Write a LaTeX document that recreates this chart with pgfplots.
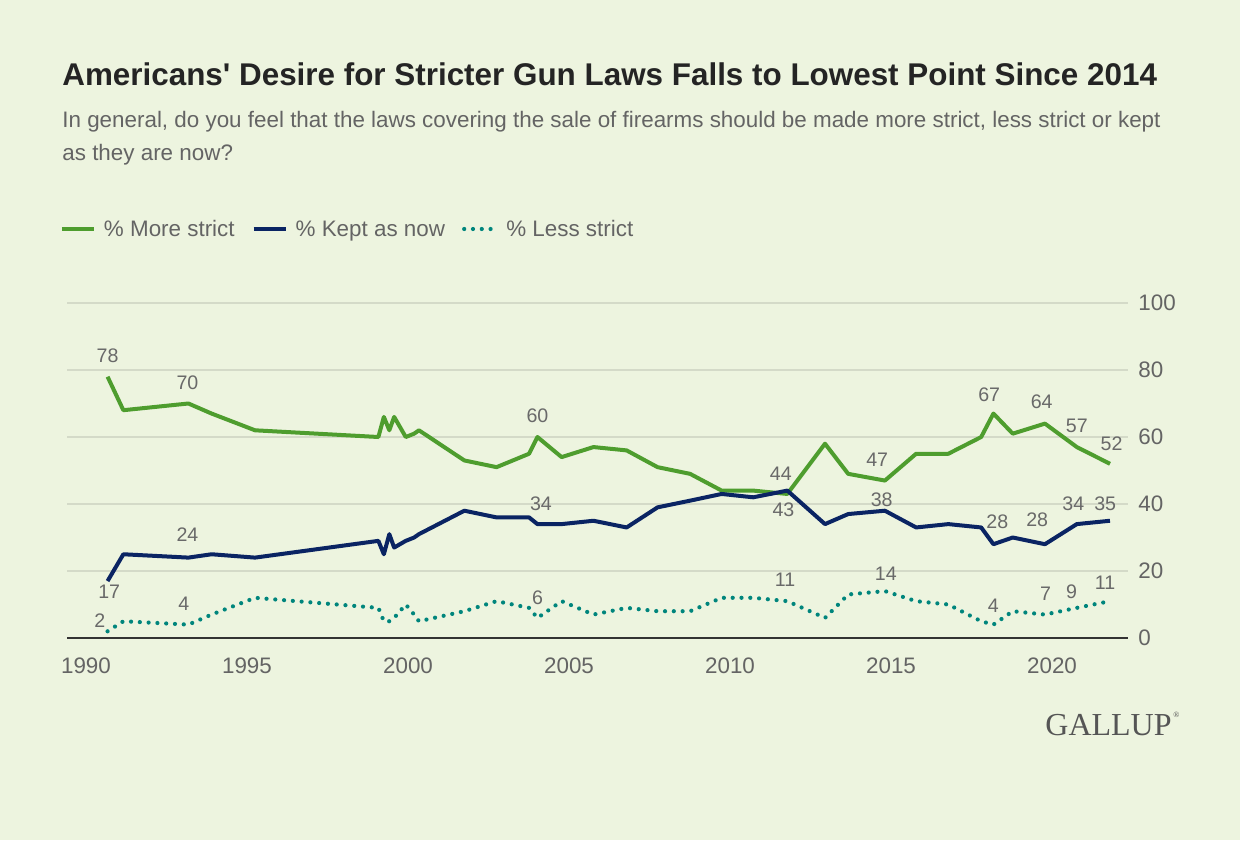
\documentclass[border=0pt]{standalone}
\usepackage{fontspec}
\setmainfont{Liberation Sans}
\newfontfamily\titlefont{Liberation Sans}[Ligatures=TeXOff]
\newfontfamily\logofont{Liberation Serif}
\usepackage{pgfplots}
\usepackage{pgfplotstable}
\pgfplotsset{compat=1.18}
\definecolor{bg}{RGB}{237,244,223}
\definecolor{gridc}{RGB}{212,218,200}
\definecolor{basec}{RGB}{51,51,51}
\definecolor{titlec}{RGB}{36,36,36}
\definecolor{subc}{RGB}{100,100,100}
\definecolor{tickc}{RGB}{100,100,100}
\definecolor{lblc}{RGB}{105,105,105}
\definecolor{cgreen}{RGB}{78,157,46}
\definecolor{cnavy}{RGB}{10,36,99}
\definecolor{cteal}{RGB}{0,133,124}
\definecolor{logoc}{RGB}{85,85,85}
\tikzset{dl/.style={font=\fontsize{9.8}{11}\selectfont, text=lblc, inner sep=0pt, anchor=center}}

\pgfplotstableread{
year more kept less
1990.67 78 17 2
1991.16 68 25 5
1993.18 70 24 4
1993.90 67 25 7
1995.25 62 24 12
1999.08 60 29 9
1999.25 66 25 5
1999.42 62 31 5
1999.57 66 27 6
1999.93 60 29 10
2000.19 61 30 7
2000.34 62 31 5
2001.75 53 38 8
2002.75 51 36 11
2003.76 55 36 9
2004.02 60 34 6
2004.77 54 34 11
2005.76 57 35 7
2006.79 56 33 9
2007.75 51 39 8
2008.76 49 41 8
2009.74 44 43 12
2010.72 44 42 12
2011.78 43 44 11
2012.95 58 34 6
2013.67 49 37 13
2014.81 47 38 14
2015.78 55 33 11
2016.78 55 34 10
2017.80 60 33 5
2018.18 67 28 4
2018.78 61 30 8
2019.78 64 28 7
2020.77 57 34 9
2021.80 52 35 11
}\gundata

\begin{document}
\begin{tikzpicture}[x=0.5pt,y=-0.5pt]
\fill[bg] (0,0) rectangle (1240,840);
\node[anchor=base west, inner sep=0pt, text=titlec, font=\titlefont\fontsize{15.7}{18}\selectfont\bfseries] at (62,85) {Americans' Desire for Stricter Gun Laws Falls to Lowest Point Since 2014};
\node[anchor=base west, inner sep=0pt, text=subc, font=\fontsize{11.2}{14}\selectfont] at (62,127) {In general, do you feel that the laws covering the sale of firearms should be made more strict, less strict or kept};
\node[anchor=base west, inner sep=0pt, text=subc, font=\fontsize{11.2}{14}\selectfont] at (62,160) {as they are now?};

\begin{axis}[
  at={(33.5pt,-319pt)}, anchor=south west,
  scale only axis, width=530.5pt, height=167.5pt,
  xmin=1989.41, xmax=2022.36, ymin=0, ymax=100,
  clip=false,
  axis line style={draw=none},
  tick style={draw=none}, major tick length=0pt,
  xtick={1990,1995,...,2020},
  ytick={0,20,...,100},
  yticklabel pos=right,
  ymajorgrids,
  grid style={color=gridc, line width=0.8pt},
  major grid style={color=gridc, line width=0.8pt},
  extra y ticks={0}, extra y tick labels={},
  extra y tick style={grid style={color=basec, line width=1.1pt}, major grid style={color=basec, line width=1.1pt}},
  ticklabel style={font=\fontsize{11.2}{13}\selectfont, text=tickc},
  xticklabel style={anchor=north, inner sep=0pt, yshift=-9.5pt},
  yticklabel style={anchor=west, inner sep=0pt, xshift=5pt},
  /pgf/number format/1000 sep={},
  /pgf/number format/assume math mode=true,
  scaled ticks=false,
  legend columns=3,
  legend image code/.code={\draw[#1] (0pt,0pt) -- (16pt,0pt);},
  legend style={at={(-0.0066,1.2209)}, anchor=west, draw=none, fill=none,
    inner sep=0pt, outer sep=0pt,
    font=\fontsize{11.2}{13}\selectfont, text=subc,
    nodes={inner sep=0pt, text height=7.7pt, text depth=0pt},
    /tikz/every odd column/.append style={column sep=4pt},
    /tikz/every even column/.append style={column sep=8.5pt}},
]
\addplot[cgreen, line width=2pt, line join=round] table[x=year,y=more]{\gundata};
\addlegendentry{\% More strict}
\addplot[cnavy, line width=2pt, line join=round] table[x=year,y=kept]{\gundata};
\addlegendentry{\% Kept as now}
\addplot[cteal, line width=2.1pt, line cap=round, dash pattern=on 0pt off 4.4pt, line join=round] table[x=year,y=less]{\gundata};
\addlegendentry{\% Less strict}

\node[dl] at (axis cs:1990.67,84.2) {78};
\node[dl] at (axis cs:1993.15,76.3) {70};
\node[dl] at (axis cs:1993.15,31.0) {24};
\node[dl] at (axis cs:1990.72,13.8) {17};
\node[dl] at (axis cs:1993.04,10.1) {4};
\node[dl] at (axis cs:1990.43,5.2) {2};
\node[dl] at (axis cs:2004.02,66.3) {60};
\node[dl] at (axis cs:2004.13,40.0) {34};
\node[dl] at (axis cs:2004.02,11.9) {6};
\node[dl] at (axis cs:2011.58,49.0) {44};
\node[dl] at (axis cs:2011.66,38.2) {43};
\node[dl] at (axis cs:2011.71,17.3) {11};
\node[dl] at (axis cs:2014.57,53.1) {47};
\node[dl] at (axis cs:2014.71,41.2) {38};
\node[dl] at (axis cs:2014.84,19.1) {14};
\node[dl] at (axis cs:2018.05,72.7) {67};
\node[dl] at (axis cs:2019.68,70.4) {64};
\node[dl] at (axis cs:2020.77,63.3) {57};
\node[dl] at (axis cs:2021.85,57.9) {52};
\node[dl] at (axis cs:2018.30,34.7) {28};
\node[dl] at (axis cs:2019.54,35.2) {28};
\node[dl] at (axis cs:2020.66,40.0) {34};
\node[dl] at (axis cs:2021.65,40.0) {35};
\node[dl] at (axis cs:2018.18,9.6) {4};
\node[dl] at (axis cs:2019.80,13.3) {7};
\node[dl] at (axis cs:2020.61,13.8) {9};
\node[dl] at (axis cs:2021.65,16.6) {11};
\end{axis}

\node[anchor=base east, inner sep=0pt, text=logoc, font=\logofont\fontsize{16}{16}\selectfont] at (1172,735) {GALLUP};
\node[anchor=base west, inner sep=0pt, text=logoc, font=\logofont\fontsize{4}{4}\selectfont] at (1173,717) {\textregistered};
\end{tikzpicture}
\end{document}
